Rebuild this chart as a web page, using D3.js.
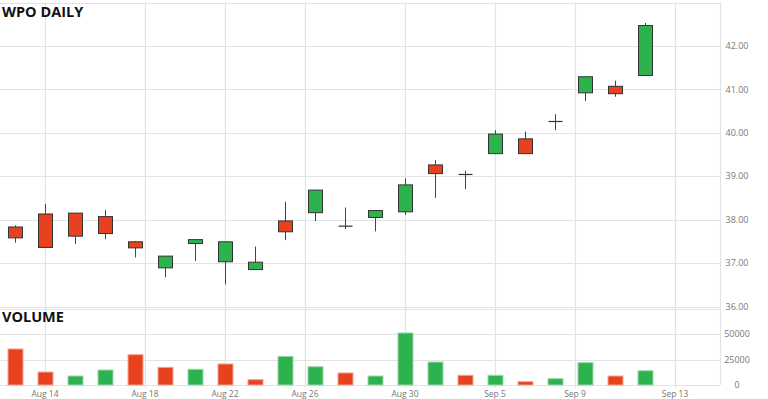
<!DOCTYPE html>
<html><head><meta charset="utf-8">
<script src="https://cdn.jsdelivr.net/npm/d3@7"></script>
<style>
html,body{margin:0;padding:0;background:#fff;}
svg{display:block;font-family:"Open Sans",sans-serif;}
</style></head>
<body><svg id="c" width="768" height="399"></svg>
<script>
// ---- data ----
const dates = ["2018-08-13","2018-08-14","2018-08-15","2018-08-16","2018-08-17",
  "2018-08-20","2018-08-21","2018-08-22","2018-08-23","2018-08-24",
  "2018-08-27","2018-08-28","2018-08-29","2018-08-30","2018-08-31",
  "2018-09-04","2018-09-05","2018-09-06","2018-09-07",
  "2018-09-10","2018-09-11","2018-09-12"];
const futureDates = ["2018-09-13","2018-09-14"];
const open  = [37.83,38.13,38.15,38.07,37.49,36.89,37.45,37.03,36.85,37.97,38.16,37.85,38.05,38.18,39.26,39.04,39.52,39.86,40.26,40.92,41.07,41.32];
const high  = [37.87,38.36,38.15,38.22,37.51,37.16,37.54,37.49,37.38,38.41,38.68,38.28,38.21,38.95,39.37,39.13,40.06,40.03,40.43,41.29,41.20,42.53];
const low   = [37.47,37.35,37.44,37.55,37.13,36.67,37.05,36.51,36.85,37.53,37.97,37.78,37.73,38.11,38.50,38.70,39.52,39.52,40.06,40.73,40.83,41.32];
const close = [37.58,37.36,37.62,37.68,37.35,37.16,37.54,37.49,37.02,37.72,38.68,37.85,38.21,38.80,39.06,39.04,39.97,39.52,40.26,41.29,40.90,42.47];
const volume = [35300,12700,8800,14700,29700,17300,15400,20600,5200,28100,17900,11800,8800,51000,22500,9500,9500,3300,6200,21900,8800,14000];
const xTickLabels = ["2018-08-14","2018-08-18","2018-08-22","2018-08-26","2018-08-30","2018-09-05","2018-09-09","2018-09-13"];
const priceTicks = [36,37,38,39,40,41,42];
const volumeTicks = [0,25000,50000];

// ---- layout ----
const svg = d3.select("#c");
const W = 720;
const pTop = 2.5, pBot = 306.5, vTop = 308.5, vBot = 385;
const grid = "#e3e3e3";
const GREEN = "#2db34d", RED = "#e8411d";

const parse = d3.utcParse("%Y-%m-%d");
const allDates = dates.concat(futureDates).map(parse);
const x = d3.scaleUtc().domain(allDates).range(allDates.map((d,i)=>15 + 30*i));
const y = d3.scaleLinear().domain([36,43]).range([pBot,pTop]);
const yv = d3.scaleLinear().domain([0,75000]).range([vBot,vTop]);

const data = dates.map((d,i)=>({date:parse(d),o:open[i],h:high[i],l:low[i],c:close[i],v:volume[i],
  up: i===0 ? close[i]>=open[i] : close[i]>=close[i-1]}));

// grid - horizontal price
const g = svg.append("g");
g.selectAll(".hp").data(priceTicks.concat([43])).join("line")
  .attr("x1",0).attr("x2",W).attr("y1",d=>Math.round(y(d))+0.5).attr("y2",d=>Math.round(y(d))+0.5)
  .attr("stroke",grid).attr("stroke-width",1.2);
g.selectAll(".hv").data(volumeTicks.concat([75000])).join("line")
  .attr("x1",0).attr("x2",W).attr("y1",d=>Math.round(yv(d))+0.5).attr("y2",d=>Math.round(yv(d))+0.5)
  .attr("stroke",grid).attr("stroke-width",1.2);
// vertical grid
g.selectAll(".vg").data(xTickLabels.map(parse)).join("line")
  .attr("x1",d=>Math.round(x(d))+0.5).attr("x2",d=>Math.round(x(d))+0.5)
  .attr("y1",pTop).attr("y2",vBot+3).attr("stroke",grid).attr("stroke-width",1.2);
// right border
g.append("line").attr("x1",W+0.5).attr("x2",W+0.5).attr("y1",pTop).attr("y2",vBot)
  .attr("stroke",grid).attr("stroke-width",1.2);

// candles
const bw = 14;
const cg = svg.append("g");
const cs = cg.selectAll("g").data(data).join("g");
cs.append("line")
  .attr("x1",d=>Math.round(x(d.date))+0.5).attr("x2",d=>Math.round(x(d.date))+0.5)
  .attr("y1",d=>y(d.h)).attr("y2",d=>y(d.l)).attr("stroke","#444").attr("stroke-width",1);
cs.filter(d=>d.o!==d.c).append("rect")
  .attr("x",d=>Math.round(x(d.date))-bw/2+0.5).attr("width",bw)
  .attr("y",d=>y(Math.max(d.o,d.c))).attr("height",d=>Math.abs(y(d.o)-y(d.c)))
  .attr("fill",d=>d.c>d.o?GREEN:RED).attr("stroke","#333").attr("stroke-width",1);
cs.filter(d=>d.o===d.c).append("line")
  .attr("x1",d=>Math.round(x(d.date))-bw/2+0.5).attr("x2",d=>Math.round(x(d.date))+bw/2+0.5)
  .attr("y1",d=>y(d.o)).attr("y2",d=>y(d.o)).attr("stroke","#333").attr("stroke-width",1.2);

// volume bars
const vw = 15;
svg.append("g").selectAll("rect").data(data).join("rect")
  .attr("x",d=>Math.round(x(d.date))-vw/2+0.5).attr("width",vw)
  .attr("y",d=>yv(d.v)).attr("height",d=>vBot-yv(d.v))
  .attr("fill",d=>d.up?GREEN:RED).attr("stroke",d=>d.up?"#9ad8a8":"#f3a48f").attr("stroke-width",1);

// axes labels
const lab = svg.append("g").attr("font-size",9).attr("fill","#777");
lab.selectAll(".py").data(priceTicks).join("text")
  .attr("x",737).attr("y",d=>y(d)).attr("dy","0.35em").attr("text-anchor","middle")
  .text(d=>d3.format(".2f")(d));
lab.selectAll(".vy").data(volumeTicks).join("text")
  .attr("x",737).attr("y",d=>yv(d)).attr("dy","0.35em").attr("text-anchor","middle")
  .text(d=>d);
const fmt = d3.utcFormat("%b %-d");
lab.selectAll(".xl").data(xTickLabels.map(parse)).join("text")
  .attr("x",d=>x(d)).attr("y",396.5).attr("font-size",8.5).attr("text-anchor","middle").text(d=>fmt(d));

// titles
svg.append("text").attr("x",2).attr("y",17).attr("font-size",14.5).attr("font-weight","bold")
  .attr("fill","#111").text("WPO DAILY");
svg.append("text").attr("x",2).attr("y",322).attr("font-size",14.5).attr("font-weight","bold")
  .attr("fill","#111").text("VOLUME");
</script></body></html>
